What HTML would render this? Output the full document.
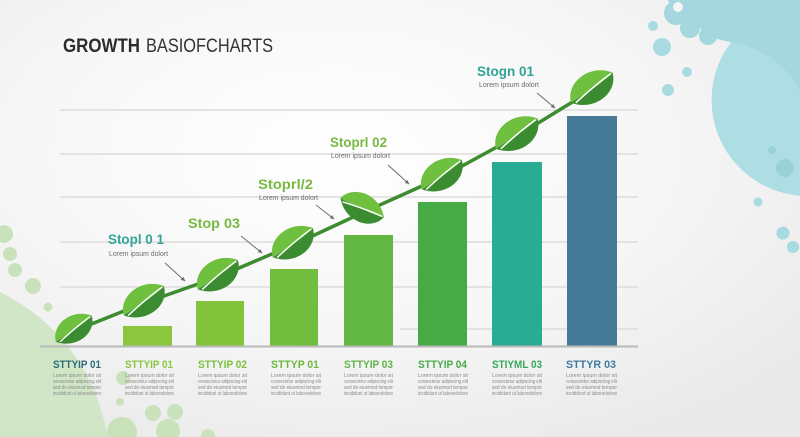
<!DOCTYPE html>
<html>
<head>
<meta charset="utf-8">
<style>
html,body{margin:0;padding:0;background:#f4f4f4;width:800px;height:437px;overflow:hidden;}
svg{display:block;}
text{font-family:"Liberation Sans",sans-serif;}
</style>
</head>
<body>
<svg width="800" height="437" viewBox="0 0 800 437" xmlns="http://www.w3.org/2000/svg">
<defs>
  <radialGradient id="bg" cx="0.42" cy="0.35" r="0.75">
    <stop offset="0" stop-color="#ffffff"/>
    <stop offset="0.55" stop-color="#f6f6f6"/>
    <stop offset="1" stop-color="#e9e9e9"/>
  </radialGradient>
  <marker id="ar" viewBox="0 0 10 10" refX="8" refY="5" markerWidth="5" markerHeight="5" orient="auto">
    <path d="M0,1 L9,5 L0,9 z" fill="#6d6d6d"/>
  </marker>
  <g id="leaf">
    <path d="M-27,0 C-20,-20 12,-23 27,-1 C 22,1 -10,2 -27,0 Z" fill="#70c040"/>
    <path d="M-27,0 C-10,2 22,1 27,-1 C 20,20 -12,22 -27,0 Z" fill="#3b8c31"/>
    <path d="M-23,3 C-8,1 12,-1 25,-1" stroke="#ffffff" stroke-width="1.6" fill="none"/>
  </g>
</defs>

<rect width="800" height="437" fill="url(#bg)"/>

<!-- right teal decoration -->
<path d="M800,4.3 A96,96 0 0 0 800,195.7 Z" fill="#aedde3"/>
<path d="M668,0 C672,14 690,16 700,28 C712,40 722,40 740,44 C770,52 790,70 800,92 L800,0 Z" fill="#a4d7de"/>
<circle cx="676" cy="13" r="12" fill="#a4d7de"/>
<circle cx="690" cy="28" r="10" fill="#a4d7de"/>
<circle cx="708" cy="36" r="9" fill="#a4d7de"/>
<circle cx="678" cy="7" r="5" fill="#f5f5f5"/>
<circle cx="653" cy="26" r="5" fill="#a8dae1"/>
<circle cx="662" cy="47" r="9" fill="#a8dae1"/>
<circle cx="687" cy="72" r="5" fill="#a8dae1"/>
<circle cx="668" cy="90" r="6" fill="#a8dae1"/>
<circle cx="772" cy="150" r="4" fill="#9ad1d9"/>
<circle cx="785" cy="168" r="9" fill="#9ad1d9"/>
<circle cx="758" cy="202" r="4.5" fill="#a8dae1"/>
<circle cx="783" cy="233" r="6.5" fill="#a8dae1"/>
<circle cx="793" cy="247" r="6" fill="#a8dae1"/>

<!-- left green decoration -->
<path d="M0,292 A196,196 0 0 1 107.5,437 L0,437 Z" fill="#d0e6c6"/>
<g fill="#c9e2bc">
  <path d="M0,225.94 A9,9 0 1 1 0,242.06 Z"/>
  <circle cx="10" cy="254" r="7"/>
  <circle cx="15" cy="270" r="7"/>
  <circle cx="33" cy="286" r="8"/>
  <circle cx="48" cy="307" r="4.5"/>
  <circle cx="123" cy="378" r="7"/>
  <circle cx="120" cy="402" r="4"/>
  <circle cx="153" cy="413" r="8"/>
  <circle cx="175" cy="412" r="8"/>
  <path d="M157.61,437 A12,12 0 1 1 178.39,437 Z"/>
  <path d="M107.86,437 A15,15 0 1 1 136.14,437 Z"/>
  <path d="M201.07,437 A7,7 0 1 1 214.93,437 Z"/>
</g>

<!-- title -->
<text x="63" y="52" font-size="19" font-weight="bold" fill="#2b2b2b" textLength="77" lengthAdjust="spacingAndGlyphs">GROWTH</text>
<text x="146" y="52" font-size="19" fill="#333333" textLength="127" lengthAdjust="spacingAndGlyphs">BASIOFCHARTS</text>

<!-- gridlines -->
<g stroke="#dcdcdc" stroke-width="1.5">
  <line x1="60" y1="110" x2="638" y2="110"/>
  <line x1="60" y1="154" x2="638" y2="154"/>
  <line x1="60" y1="197" x2="638" y2="197"/>
  <line x1="60" y1="242" x2="638" y2="242"/>
  <line x1="60" y1="287" x2="638" y2="287"/>
  <line x1="400" y1="329" x2="638" y2="329"/>
</g>

<!-- bars -->
<rect x="123" y="326" width="49" height="20" fill="#8cc63e"/>
<rect x="196" y="301" width="48" height="45" fill="#82c33c"/>
<rect x="270" y="269" width="48" height="77" fill="#72bd3d"/>
<rect x="344" y="235" width="49" height="111" fill="#62b743"/>
<rect x="418" y="202" width="49" height="144" fill="#46aa45"/>
<rect x="492" y="162" width="50" height="184" fill="#2aab94"/>
<rect x="567" y="116" width="50" height="230" fill="#467b98"/>

<!-- baseline -->
<line x1="40" y1="346.5" x2="638" y2="346.5" stroke="#b9b9b9" stroke-width="2"/>

<!-- stem -->
<polyline points="74,331 144,303 218,277 293,245 362,213 442,177 517,136 592,90" fill="none" stroke="#3d8c30" stroke-width="3.5" stroke-linejoin="round"/>

<!-- leaves -->
<use href="#leaf" transform="translate(74,329) rotate(-35) scale(0.82)"/>
<use href="#leaf" transform="translate(144,301) rotate(-35) scale(0.92)"/>
<use href="#leaf" transform="translate(218,275) rotate(-35) scale(0.92)"/>
<use href="#leaf" transform="translate(293,243) rotate(-35) scale(0.92)"/>
<use href="#leaf" transform="translate(362,208) rotate(25) scale(0.88)"/>
<use href="#leaf" transform="translate(442,175) rotate(-35) scale(0.92)"/>
<use href="#leaf" transform="translate(517,134) rotate(-35) scale(0.95)"/>
<use href="#leaf" transform="translate(592,88) rotate(-35) scale(0.95)"/>

<!-- annotations -->
<text x="477" y="76" font-size="14" font-weight="bold" fill="#2ea596" textLength="57" lengthAdjust="spacingAndGlyphs">Stogn 01</text>
<text x="479" y="87" font-size="7.5" fill="#6a6a6a" textLength="60" lengthAdjust="spacingAndGlyphs">Lorem ipsum dolort</text>
<line x1="537" y1="93" x2="555" y2="108" stroke="#6d6d6d" stroke-width="1" marker-end="url(#ar)"/>

<text x="330" y="147" font-size="14" font-weight="bold" fill="#79b843" textLength="57" lengthAdjust="spacingAndGlyphs">Stoprl 02</text>
<text x="331" y="158" font-size="7.5" fill="#6a6a6a" textLength="59" lengthAdjust="spacingAndGlyphs">Lorem ipsum dolort</text>
<line x1="388" y1="165" x2="409" y2="184" stroke="#6d6d6d" stroke-width="1" marker-end="url(#ar)"/>

<text x="258" y="189" font-size="14" font-weight="bold" fill="#79b843" textLength="55" lengthAdjust="spacingAndGlyphs">Stoprl/2</text>
<text x="259" y="200" font-size="7.5" fill="#6a6a6a" textLength="59" lengthAdjust="spacingAndGlyphs">Lorem ipsum dolort</text>
<line x1="316" y1="205" x2="334" y2="219" stroke="#6d6d6d" stroke-width="1" marker-end="url(#ar)"/>

<text x="188" y="228" font-size="14" font-weight="bold" fill="#79b843" textLength="52" lengthAdjust="spacingAndGlyphs">Stop 03</text>
<line x1="241" y1="236" x2="262" y2="253" stroke="#6d6d6d" stroke-width="1" marker-end="url(#ar)"/>

<text x="108" y="244" font-size="14" font-weight="bold" fill="#35a597" textLength="56" lengthAdjust="spacingAndGlyphs">Stopl 0 1</text>
<text x="109" y="256" font-size="7.5" fill="#6a6a6a" textLength="59" lengthAdjust="spacingAndGlyphs">Lorem ipsum dolort</text>
<line x1="165" y1="263" x2="185" y2="281" stroke="#6d6d6d" stroke-width="1" marker-end="url(#ar)"/>

<!-- bottom labels -->
<g font-size="11" font-weight="bold">
  <text x="53" y="368" fill="#2e6c7c" textLength="48" lengthAdjust="spacingAndGlyphs">STTYIP 01</text>
  <text x="125" y="368" fill="#8cc63e" textLength="48" lengthAdjust="spacingAndGlyphs">STTYIP 01</text>
  <text x="198" y="368" fill="#7cc03e" textLength="49" lengthAdjust="spacingAndGlyphs">STTYIP 02</text>
  <text x="271" y="368" fill="#6cba40" textLength="48" lengthAdjust="spacingAndGlyphs">STTYP 01</text>
  <text x="344" y="368" fill="#5fb445" textLength="49" lengthAdjust="spacingAndGlyphs">STTYIP 03</text>
  <text x="418" y="368" fill="#48ab48" textLength="49" lengthAdjust="spacingAndGlyphs">STTYIP 04</text>
  <text x="492" y="368" fill="#36a85c" textLength="50" lengthAdjust="spacingAndGlyphs">STIYML 03</text>
  <text x="566" y="368" fill="#3e7aa0" textLength="50" lengthAdjust="spacingAndGlyphs">STTYR 03</text>
</g>
<g font-size="5.5" fill="#8a8a8a">
  <text x="53" y="377" textLength="48" lengthAdjust="spacingAndGlyphs">Lorem ipsum dolor sit</text>
  <text x="53" y="383" textLength="48" lengthAdjust="spacingAndGlyphs">consectetur adipiscing elit</text>
  <text x="53" y="389" textLength="48" lengthAdjust="spacingAndGlyphs">sed do eiusmod tempor</text>
  <text x="53" y="395" textLength="48" lengthAdjust="spacingAndGlyphs">incididunt ut laboredolore</text>

  <text x="125" y="377" textLength="49" lengthAdjust="spacingAndGlyphs">Lorem ipsum dolor sit</text>
  <text x="125" y="383" textLength="49" lengthAdjust="spacingAndGlyphs">consectetur adipiscing elit</text>
  <text x="125" y="389" textLength="49" lengthAdjust="spacingAndGlyphs">sed do eiusmod tempor</text>
  <text x="125" y="395" textLength="49" lengthAdjust="spacingAndGlyphs">incididunt ut laboredolore</text>

  <text x="198" y="377" textLength="49" lengthAdjust="spacingAndGlyphs">Lorem ipsum dolor sit</text>
  <text x="198" y="383" textLength="49" lengthAdjust="spacingAndGlyphs">consectetur adipiscing elit</text>
  <text x="198" y="389" textLength="49" lengthAdjust="spacingAndGlyphs">sed do eiusmod tempor</text>
  <text x="198" y="395" textLength="49" lengthAdjust="spacingAndGlyphs">incididunt ut laboredolore</text>

  <text x="271" y="377" textLength="50" lengthAdjust="spacingAndGlyphs">Lorem ipsum dolor sit</text>
  <text x="271" y="383" textLength="50" lengthAdjust="spacingAndGlyphs">consectetur adipiscing elit</text>
  <text x="271" y="389" textLength="50" lengthAdjust="spacingAndGlyphs">sed do eiusmod tempor</text>
  <text x="271" y="395" textLength="50" lengthAdjust="spacingAndGlyphs">incididunt ut laboredolore</text>

  <text x="344" y="377" textLength="49" lengthAdjust="spacingAndGlyphs">Lorem ipsum dolor sit</text>
  <text x="344" y="383" textLength="49" lengthAdjust="spacingAndGlyphs">consectetur adipiscing elit</text>
  <text x="344" y="389" textLength="49" lengthAdjust="spacingAndGlyphs">sed do eiusmod tempor</text>
  <text x="344" y="395" textLength="49" lengthAdjust="spacingAndGlyphs">incididunt ut laboredolore</text>

  <text x="418" y="377" textLength="50" lengthAdjust="spacingAndGlyphs">Lorem ipsum dolor sit</text>
  <text x="418" y="383" textLength="50" lengthAdjust="spacingAndGlyphs">consectetur adipiscing elit</text>
  <text x="418" y="389" textLength="50" lengthAdjust="spacingAndGlyphs">sed do eiusmod tempor</text>
  <text x="418" y="395" textLength="50" lengthAdjust="spacingAndGlyphs">incididunt ut laboredolore</text>

  <text x="492" y="377" textLength="50" lengthAdjust="spacingAndGlyphs">Lorem ipsum dolor sit</text>
  <text x="492" y="383" textLength="50" lengthAdjust="spacingAndGlyphs">consectetur adipiscing elit</text>
  <text x="492" y="389" textLength="50" lengthAdjust="spacingAndGlyphs">sed do eiusmod tempor</text>
  <text x="492" y="395" textLength="50" lengthAdjust="spacingAndGlyphs">incididunt ut laboredolore</text>

  <text x="566" y="377" textLength="51" lengthAdjust="spacingAndGlyphs">Lorem ipsum dolor sit</text>
  <text x="566" y="383" textLength="51" lengthAdjust="spacingAndGlyphs">consectetur adipiscing elit</text>
  <text x="566" y="389" textLength="51" lengthAdjust="spacingAndGlyphs">sed do eiusmod tempor</text>
  <text x="566" y="395" textLength="51" lengthAdjust="spacingAndGlyphs">incididunt ut laboredolore</text>
</g>
</svg>
</body>
</html>
